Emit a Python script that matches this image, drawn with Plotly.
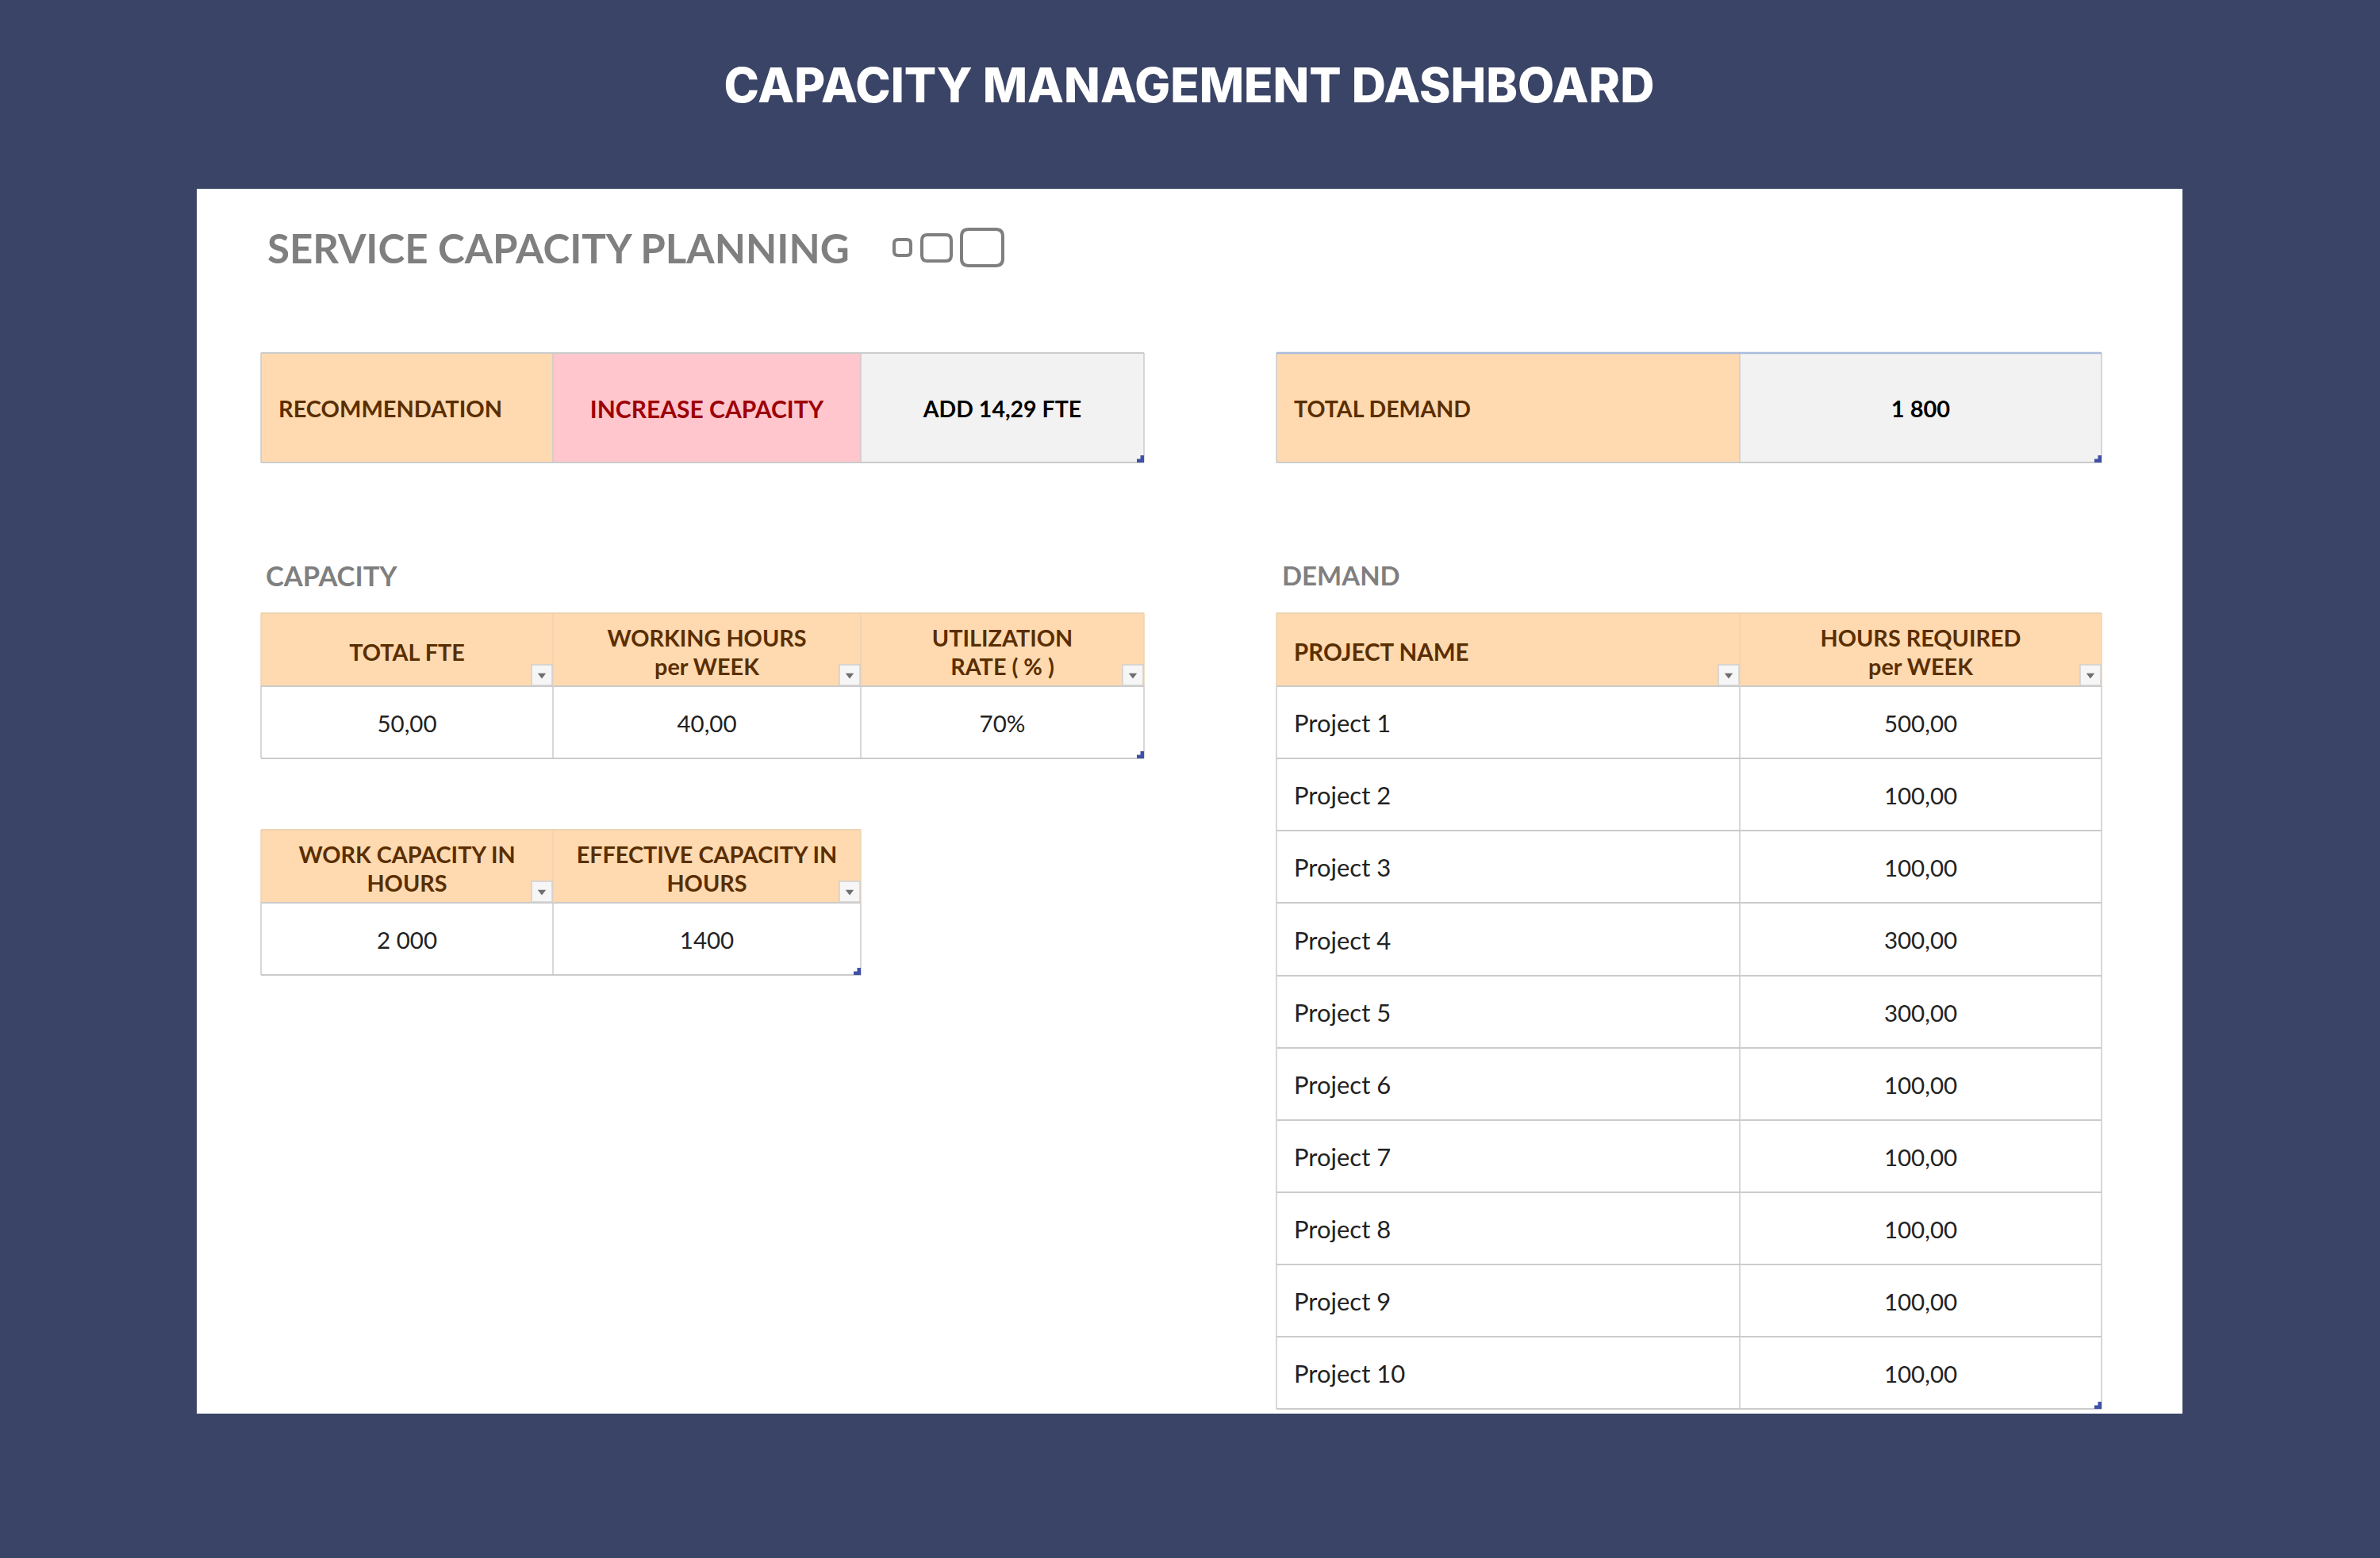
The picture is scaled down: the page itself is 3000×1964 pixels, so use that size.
import plotly.graph_objects as go

# ---------- content ----------
DASHBOARD_TITLE = "CAPACITY MANAGEMENT DASHBOARD"
SHEET_TITLE = "SERVICE CAPACITY PLANNING"
CAPACITY_LABEL = "CAPACITY"
DEMAND_LABEL = "DEMAND"

recommendation_cells = ["RECOMMENDATION", "INCREASE CAPACITY", "ADD 14,29 FTE"]
total_demand_cells = ["TOTAL DEMAND", "1 800"]

capacity_headers = ["TOTAL FTE", "WORKING HOURS<br>per WEEK", "UTILIZATION<br>RATE ( % )"]
capacity_values = ["50,00", "40,00", "70%"]

effective_headers = ["WORK CAPACITY IN<br>HOURS", "EFFECTIVE CAPACITY IN<br>HOURS"]
effective_values = ["2 000", "1400"]

demand_headers = ["PROJECT NAME", "HOURS REQUIRED<br>per WEEK"]
project_names = ["Project 1", "Project 2", "Project 3", "Project 4", "Project 5",
                 "Project 6", "Project 7", "Project 8", "Project 9", "Project 10"]
project_hours = [500, 100, 100, 300, 300, 100, 100, 100, 100, 100]

# ---------- style ----------
NAVY = "#3A4466"
PEACH = "#FFDAB0"
PINK = "#FFC6CE"
LIGHT = "#F2F2F2"
BROWN = "#5A2E00"
RED = "#9C0006"
GREY = "#7F7F7F"
GRID = "#CBCBCB"
HEADER_GRID = "#EED3B0"
HANDLE = "#3F51A5"
FONT = "Lato"
BODY = "#222222"
DY = 5  # text baseline correction
HEADER_LINE_GAP = 36

W, H = 3000, 1964
PANEL = (248, 238, 2751, 1782)

shapes = []
traces = []


def rect(x0, y0, x1, y1, fill=None, line=None, width=0):
    shapes.append(dict(type="rect", xref="x", yref="y", x0=x0, y0=y0, x1=x1, y1=y1,
                       fillcolor=fill or "rgba(0,0,0,0)", layer="below",
                       line=dict(color=line or "rgba(0,0,0,0)", width=width)))


def seg(x0, y0, x1, y1, color=GRID, width=1.5):
    shapes.append(dict(type="line", xref="x", yref="y", x0=x0, y0=y0, x1=x1, y1=y1,
                       layer="below", line=dict(color=color, width=width)))


def rounded(x0, y0, x1, y1, r):
    path = (f"M{x0+r},{y0} L{x1-r},{y0} Q{x1},{y0} {x1},{y0+r} L{x1},{y1-r} Q{x1},{y1} {x1-r},{y1} "
            f"L{x0+r},{y1} Q{x0},{y1} {x0},{y1-r} L{x0},{y0+r} Q{x0},{y0} {x0+r},{y0} Z")
    shapes.append(dict(type="path", xref="x", yref="y", path=path, layer="below",
                       line=dict(color=GREY, width=4), fillcolor="rgba(0,0,0,0)"))


def text(x, y, s, size, color, weight="normal", pos="middle center", family=FONT):
    traces.append(go.Scatter(x=[x], y=[y + DY], text=[s], mode="text", textposition=pos,
                             textfont=dict(family=family, size=size, color=color, weight=weight),
                             hoverinfo="skip", showlegend=False, cliponaxis=False))


def dropdown(x1, y1):
    """Filter button whose lower right corner sits at x1, y1."""
    rect(x1 - 27, y1 - 27, x1 - 1, y1 - 1, fill="#F6F6F6", line="#D0D0D0", width=1.5)
    traces.append(go.Scatter(x=[x1 - 14], y=[y1 - 14], mode="markers",
                             marker=dict(symbol="triangle-down", size=9, color="#6E6E6E"),
                             hoverinfo="skip", showlegend=False))


def handle(x1, y1):
    s = 9
    t = s / 2
    path = (f"M{x1},{y1} L{x1-s},{y1} L{x1-s},{y1-t} L{x1-t},{y1-t} L{x1-t},{y1-s} L{x1},{y1-s} Z")
    shapes.append(dict(type="path", xref="x", yref="y", path=path, layer="above",
                       fillcolor=HANDLE, line=dict(width=0)))


def frame(xs, ys):
    """Cell grid lines for a table with column edges xs and row edges ys."""
    for x in xs:
        seg(x, ys[0], x, ys[-1], width=1.5)
    for y in ys:
        seg(xs[0], y, xs[-1], y, width=2)


# ---------- background ----------
rect(*PANEL, fill="#FFFFFF")
text(1499, 109, DASHBOARD_TITLE, 59.8, "#FFFFFF", weight=800, family="Inter")
text(337, 314, SHEET_TITLE, 51, GREY, weight="bold", pos="middle right")
rounded(1127, 302, 1148, 322, 5)
rounded(1162, 296, 1199, 329, 7)
rounded(1212, 289, 1264, 335, 9)

# ---------- recommendation ----------
xs = [329, 697, 1085, 1442]
ys = [445, 583]
for i, fill in enumerate([PEACH, PINK, LIGHT]):
    rect(xs[i], ys[0], xs[i + 1], ys[1], fill=fill)
frame(xs, ys)
handle(1442, 583)
yc = (ys[0] + ys[1]) / 2
text(351, yc, recommendation_cells[0], 29, BROWN, "bold", "middle right")
text((xs[1] + xs[2]) / 2, yc, recommendation_cells[1], 30, RED, "bold")
text((xs[2] + xs[3]) / 2, yc, recommendation_cells[2], 28.5, "#000000", "bold")

# ---------- total demand ----------
xs = [1609, 2193, 2649]
ys = [445, 583]
rect(xs[0], ys[0], xs[1], ys[1], fill=PEACH)
rect(xs[1], ys[0], xs[2], ys[1], fill=LIGHT)
frame(xs, ys)
seg(xs[0], ys[0], xs[2], ys[0], color="#A9BCDD", width=2.5)
handle(2649, 583)
text(1631, yc, total_demand_cells[0], 28.5, BROWN, "bold", "middle right")
text((xs[1] + xs[2]) / 2, yc, total_demand_cells[1], 29, "#000000", "bold")

# ---------- section labels ----------
text(335, 725, CAPACITY_LABEL, 34.5, GREY, "bold", "middle right")
text(1616, 725, DEMAND_LABEL, 33, GREY, "bold", "middle right")


def block(xs, ys, headers, rows, left_first=False):
    """Header row plus value rows; rows is a list of rows of strings."""
    rect(xs[0], ys[0], xs[-1], ys[1], fill=PEACH)
    frame(xs, ys[1:])
    for x in xs:
        seg(x, ys[0], x, ys[1], color=HEADER_GRID, width=1.5)
    seg(xs[0], ys[0], xs[-1], ys[0], color=HEADER_GRID, width=2)
    for i, h in enumerate(headers):
        xc = (xs[i] + xs[i + 1]) / 2
        yh = (ys[0] + ys[1]) / 2 + 2
        if left_first and i == 0:
            text(xs[0] + 22, yh, h, 29.5, BROWN, "bold", "middle right")
        else:
            lines = h.split("<br>")
            start = yh - HEADER_LINE_GAP * (len(lines) - 1) / 2
            for k, part in enumerate(lines):
                text(xc, start + k * HEADER_LINE_GAP, part, 28.8, BROWN, "bold")
        dropdown(xs[i + 1], ys[1])
    for r, row in enumerate(rows):
        yr = (ys[r + 1] + ys[r + 2]) / 2
        for i, val in enumerate(row):
            xc = (xs[i] + xs[i + 1]) / 2
            if left_first and i == 0:
                text(xs[0] + 22, yr, val, 31, BODY, "normal", "middle right")
            else:
                text(xc, yr, val, 29.5, BODY)
    handle(xs[-1], ys[-1])


block([329, 697, 1085, 1442], [773, 865, 956], capacity_headers, [capacity_values])
block([329, 697, 1085], [1046, 1138, 1229], effective_headers, [effective_values])

demand_edges = [773, 865, 956, 1047, 1138, 1230, 1321, 1412, 1503, 1594, 1685, 1776]
demand_rows = [[n, f"{v:.2f}".replace(".", ",")] for n, v in zip(project_names, project_hours)]
block([1609, 2193, 2649], demand_edges, demand_headers, demand_rows, left_first=True)

fig = go.Figure(data=traces)
fig.update_layout(
    width=W, height=H, margin=dict(l=0, r=0, t=0, b=0),
    paper_bgcolor=NAVY, plot_bgcolor=NAVY, showlegend=False, shapes=shapes,
    xaxis=dict(range=[0, W], visible=False, fixedrange=True),
    yaxis=dict(range=[H, 0], visible=False, fixedrange=True),
)
fig.write_html("out.html", config={"displayModeBar": False},
               post_script="document.body.style.margin='0';")
